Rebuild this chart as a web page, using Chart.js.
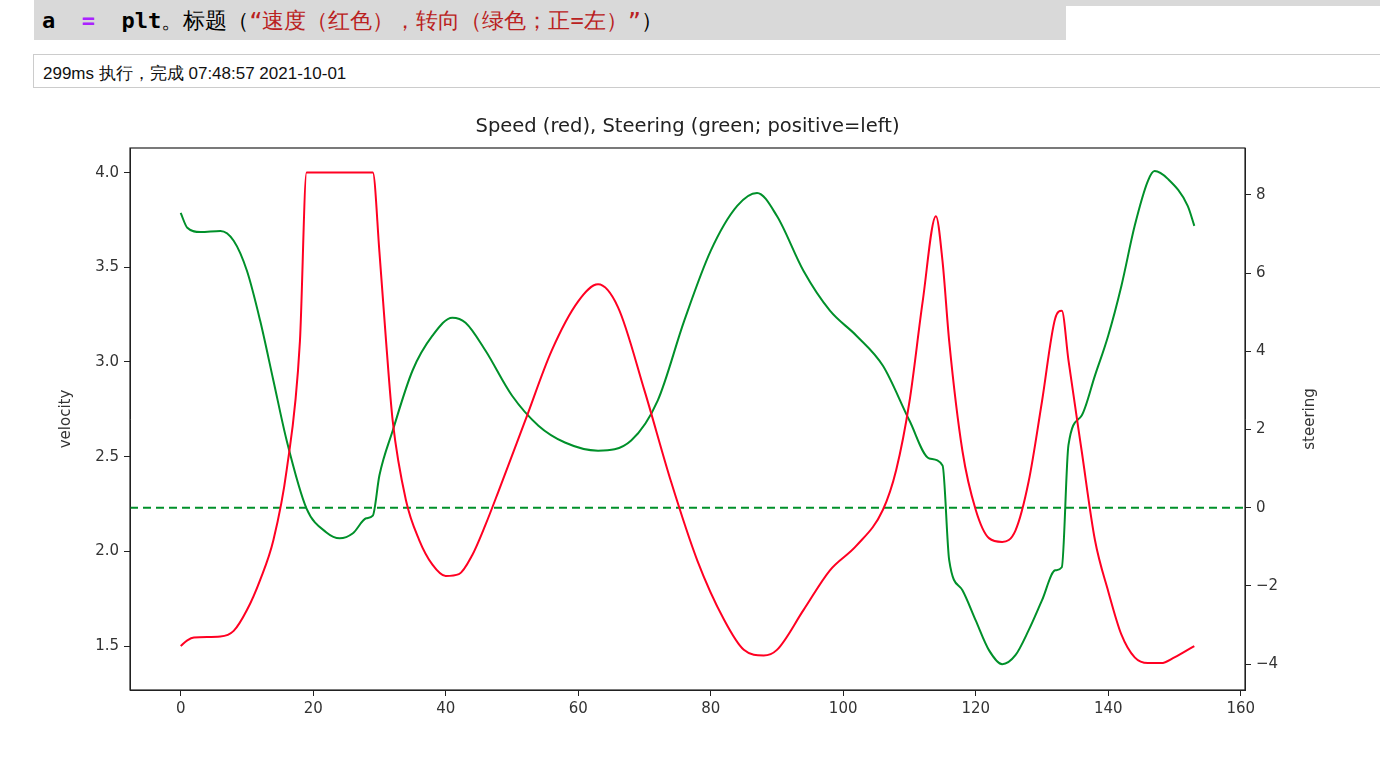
<!DOCTYPE html>
<html>
<head>
<meta charset="utf-8">
<script src="https://cdn.jsdelivr.net/npm/chart.js@4"></script>
<style>
  body { margin: 0; background: #fff; width: 1380px; height: 762px; overflow: hidden; position: relative; font-family: "Liberation Sans", Arial, sans-serif; }
  #code { position: absolute; left: 34px; top: 0; width: 1032px; height: 40px; background: #d9d9d9; }
  #code span.line { position: absolute; left: 8px; top: 6px; font-family: "DejaVu Sans Mono", monospace; font-size: 22px; color: #000; white-space: pre; }
  #codebg { position: absolute; left: 34px; top: 0; width: 1346px; height: 6px; background: #d9d9d9; }
  #status { position: absolute; left: 33px; top: 54px; width: 1347px; height: 34px; border: 1px solid #ccc; border-right: none; box-sizing: border-box; font-size: 17px; color: #111; padding: 7px 0 0 9px; }
  #wrap { position: absolute; left: 0; top: 100px; width: 1380px; height: 662px; }
</style>
</head>
<body>
<div id="codebg"></div>
<div id="code"><span class="line"><b>a</b>  <b style="color:#aa22ff">=</b>  <b>plt</b>。标题（<span style="color:#ba2121">“速度（红色），转向（绿色；正=左）”</span>）</span></div>
<div id="status">299ms 执行，完成 07:48:57 2021-10-01</div>
<div id="wrap"><canvas id="c" width="1380" height="662"></canvas></div>
<script>
// speed (red), left axis
const speedX = [0,1,2,6,8,10,12,14,16,18,19,29,30,31,32,34,36,38,40,42,44,46,48,52,56,60,63,66,70,74,78,82,85,88,90,94,98,102,106,108,110,112,114,115,116,118,120,122,124,126,128,130,132,133,134,136,138,140,142,144,146,148,150,153];
const speedY = [1.5,1.53,1.545,1.55,1.58,1.69,1.85,2.06,2.43,3.11,4.0,4.0,3.58,3.11,2.69,2.27,2.06,1.93,1.87,1.88,1.98,2.14,2.32,2.69,3.06,3.32,3.41,3.29,2.85,2.37,1.95,1.64,1.48,1.45,1.48,1.69,1.9,2.03,2.22,2.43,2.79,3.32,3.77,3.53,3.11,2.53,2.22,2.07,2.05,2.11,2.37,2.79,3.23,3.27,3.01,2.53,2.06,1.79,1.56,1.44,1.41,1.41,1.44,1.5];
// steering (green), right axis
const steerX = [0,1,3,6,8,10,12,14,16,19,22,24,26,28,29,30,32,35,38,41,43,46,50,54,58,63,68,72,76,80,84,87,90,94,98,102,106,110,113,115,116,118,120,122,124,126,128,130,132,133,134,136,138,140,142,144,146,147,149,152,153];
const steerY = [7.54,7.16,7.05,7.08,6.83,6.06,4.78,3.25,1.72,-0.02,-0.63,-0.78,-0.65,-0.27,-0.2,0.83,1.97,3.51,4.4,4.86,4.73,4.02,2.87,2.1,1.67,1.46,1.72,2.74,4.78,6.57,7.72,8.05,7.46,6.06,5.04,4.4,3.63,2.23,1.26,1.08,-1.34,-2.11,-2.88,-3.64,-4.0,-3.77,-3.13,-2.37,-1.6,-1.52,1.6,2.36,3.38,4.4,5.68,7.21,8.36,8.61,8.41,7.72,7.21];
const xTicks = [0,20,40,60,80,100,120,140,160];
const leftTicks = [1.5,2.0,2.5,3.0,3.5,4.0];
const rightTicks = [-4,-2,0,2,4,6,8];
const zeroLine = [0, 0];

const pts = (xs, ys) => xs.map((x, i) => ({x: x, y: ys[i]}));
const tickFont = {family: "DejaVu Sans", size: 15};
const tickColor = "#333";

const frame = {
  id: "frame",
  afterDraw(chart) {
    const a = chart.chartArea, c = chart.ctx;
    c.save();
    c.strokeStyle = "#222"; c.lineWidth = 1.2;
    c.strokeRect(a.left, a.top, a.right - a.left, a.bottom - a.top);
    c.fillStyle = "#222"; c.font = "19.5px 'DejaVu Sans'"; c.textAlign = "center";
    c.fillText("Speed (red), Steering (green; positive=left)", (a.left + a.right) / 2, 32);
    c.font = "15px 'DejaVu Sans'"; c.fillStyle = "#333";
    c.translate(70, (a.top + a.bottom) / 2); c.rotate(-Math.PI / 2);
    c.fillText("velocity", 0, 0);
    c.restore(); c.save();
    c.font = "15px 'DejaVu Sans'"; c.fillStyle = "#333"; c.textAlign = "center";
    c.translate(1314, (a.top + a.bottom) / 2); c.rotate(-Math.PI / 2);
    c.fillText("steering", 0, 0);
    c.restore();
  }
};

new Chart(document.getElementById("c"), {
  type: "line",
  data: {
    datasets: [
      {data: pts(speedX, speedY), yAxisID: "y", borderColor: "#ff0022", borderWidth: 2, pointRadius: 0, cubicInterpolationMode: "monotone"},
      {data: pts(steerX, steerY), yAxisID: "y2", borderColor: "#00902a", borderWidth: 2, pointRadius: 0, cubicInterpolationMode: "monotone"},
      {data: pts([-7.65, 160.65], zeroLine), yAxisID: "y2", borderColor: "#00902a", borderWidth: 2.2, borderDash: [8, 5], pointRadius: 0}
    ]
  },
  options: {
    responsive: false, animation: false, devicePixelRatio: 1,
    layout: {padding: {top: 48, left: 0, right: 0, bottom: 0}},
    plugins: {legend: {display: false}, tooltip: {enabled: false}},
    scales: {
      x: {
        type: "linear", min: -7.65, max: 160.65,
        afterBuildTicks: s => { s.ticks = xTicks.map(v => ({value: v})); },
        afterFit: s => { s.height = 72; },
        grid: {drawOnChartArea: false, tickLength: 6, color: "#222"},
        border: {color: "#222"},
        ticks: {font: tickFont, color: tickColor, maxRotation: 0, padding: 4}
      },
      y: {
        position: "left", min: 1.268, max: 4.13,
        afterBuildTicks: s => { s.ticks = leftTicks.map(v => ({value: v})); },
        afterFit: s => { s.width = 130; },
        grid: {drawOnChartArea: false, tickLength: 6, color: "#222"},
        border: {color: "#222"},
        ticks: {font: tickFont, color: tickColor, padding: 5, callback: v => v.toFixed(1)}
      },
      y2: {
        position: "right", min: -4.66, max: 9.2,
        afterBuildTicks: s => { s.ticks = rightTicks.map(v => ({value: v})); },
        afterFit: s => { s.width = 135; },
        grid: {drawOnChartArea: false, tickLength: 6, color: "#222"},
        border: {color: "#222"},
        ticks: {font: tickFont, color: tickColor, padding: 5, callback: v => (v < 0 ? "\u2212" + Math.abs(v) : "" + v)}
      }
    }
  },
  plugins: [frame]
});
</script>
</body>
</html>
